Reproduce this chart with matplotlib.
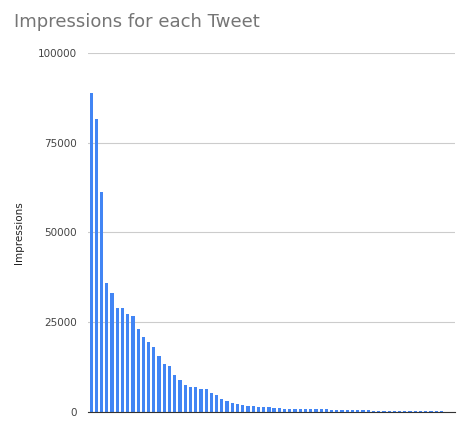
import matplotlib.pyplot as plt
import numpy as np

impressions = [88900, 81700, 61400, 36000, 33100, 28900, 28900, 27200, 26700, 23000,
               21000, 19600, 18000, 15700, 13500, 12700, 10400, 9000, 7500, 6900,
               6900, 6500, 6300, 5400, 4800, 3500, 3200, 2500, 2100, 2000,
               1600, 1600, 1300, 1300, 1300, 1000, 1000, 950, 900, 880,
               850, 820, 800, 780, 750, 700, 680, 650, 600, 550,
               500, 480, 450, 420, 400, 380, 350, 330, 300, 280,
               260, 240, 220, 200, 190, 180, 160, 150, 130]
yticks = [0, 25000, 50000, 75000, 100000]

fig = plt.figure(figsize=(4.74, 4.33), dpi=100)
ax = fig.add_axes([88/474, 1-412/433, (455-88)/474, (412-53)/433])
x = np.arange(len(impressions))
ax.bar(x, impressions, width=0.62, color='#4285f4')
ax.set_ylim(0, 100000)
ax.set_xlim(-0.6, len(impressions) - 0.4 + 1)
ax.set_yticks(yticks)
ax.set_yticklabels([str(v) for v in yticks], fontsize=7.5, color='#444444')
ax.set_xticks([])
ax.grid(axis='y', color='#cccccc', linewidth=0.8)
ax.set_axisbelow(True)
for s in ['top', 'right', 'left']:
    ax.spines[s].set_visible(False)
ax.spines['bottom'].set_color('#333333')
ax.tick_params(axis='y', length=0, pad=8)
ax.set_ylabel('Impressions', fontsize=7.5, color='#222222', labelpad=10)
fig.text(14/474, 1-22/433, 'Impressions for each Tweet', fontsize=13, color='#757575', va='center')
fig.savefig('out.png')
